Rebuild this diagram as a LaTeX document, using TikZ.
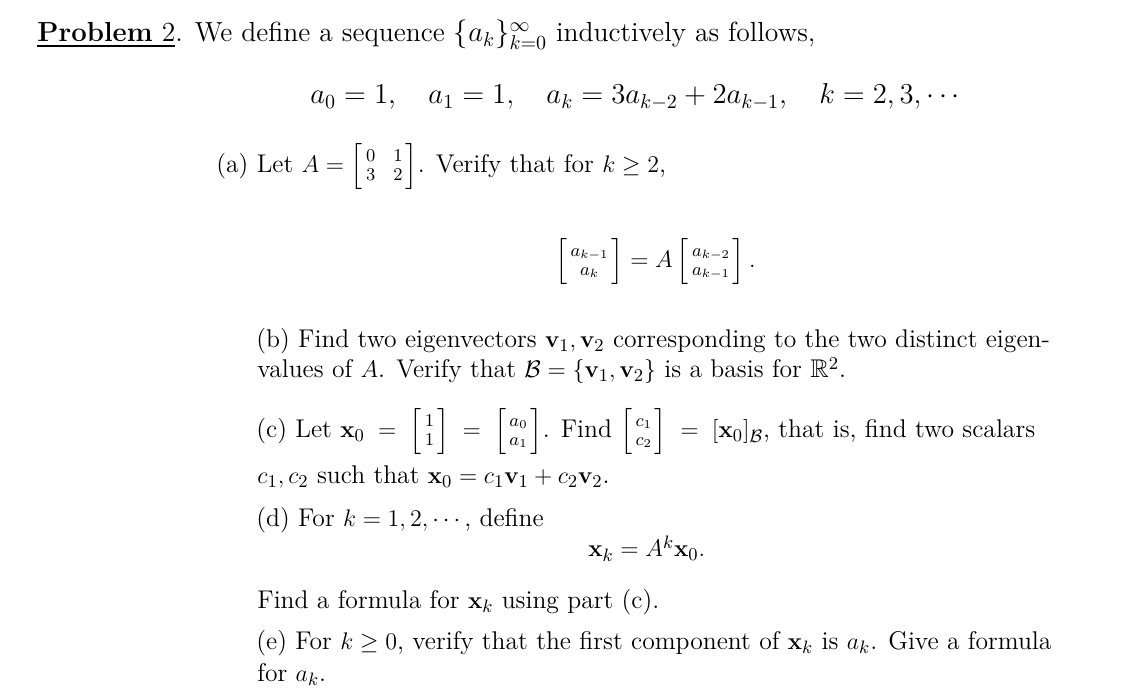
\documentclass[tikz,border=0pt]{standalone}
\usepackage{amsmath,amssymb}
\newcommand{\sm}[2]{\left[\vcenter{\hbox{\small\renewcommand{\arraystretch}{0.85}$\begin{array}{@{\,}#1@{\,}}#2\end{array}$}}\right]}
\begin{document}
\begin{tikzpicture}[x=0.5pt,y=-0.5pt,font=\fontsize{13.8}{16}\selectfont,
  t/.style={anchor=base west,inner sep=0pt},
  it/.style={t,font=\fontsize{12.8}{15}\selectfont}]
\useasboundingbox (0,0) rectangle (1144,688);
\node[t] (l1) at (37,42) {\underline{\textbf{Problem} 2}. We define a sequence $\{a_k\}_{k=0}^{\infty}$ inductively as follows,};
\node[t] (l2) at (310,104) {$a_0=1,\quad a_1=1,\quad a_k=3a_{k-2}+2a_{k-1},\quad k=2,3,\cdots$};
\node[it] (l3) at (216,173) {(a) Let $A=\sm{c@{\quad}c}{0&1\\3&2}$. Verify that for $k\geq 2$,};
\node[it] (l4) at (555,268) {$\sm{c}{a_{k-1}\\a_k}=A\sm{c}{a_{k-2}\\a_{k-1}}.$};
\node[it] (l5) at (256,348) {(b) Find two eigenvectors $\mathbf{v}_1,\mathbf{v}_2$ corresponding to the two distinct eigen-};
\node[it] (l6) at (257,378) {values of $A$. Verify that $\mathcal{B}=\{\mathbf{v}_1,\mathbf{v}_2\}$ is a basis for $\mathbb{R}^2$.};
\node[it] (l7) at (256,438) {(c) Let $\mathbf{x}_0\;=\;\sm{c}{1\\1}\;=\;\sm{c}{a_0\\a_1}$. Find $\sm{c}{c_1\\c_2}\;=\;[\mathbf{x}_0]_{\mathcal{B}}$, that is, find two scalars};
\node[it] (l8) at (257,484) {$c_1,c_2$ such that $\mathbf{x}_0=c_1\mathbf{v}_1+c_2\mathbf{v}_2$.};
\node[it] (l9) at (256,527) {(d) For $k=1,2,\cdots$, define};
\node[it] (l10) at (588,557) {$\mathbf{x}_k=A^k\mathbf{x}_0.$};
\node[it] (l11) at (257,608) {Find a formula for $\mathbf{x}_k$ using part (c).};
\node[it] (l12) at (256,649) {(e) For $k\geq 0$, verify that the first component of $\mathbf{x}_k$ is $a_k$. Give a formula};
\node[it] (l13) at (257,681) {for $a_k$.};
\end{tikzpicture}
\end{document}
